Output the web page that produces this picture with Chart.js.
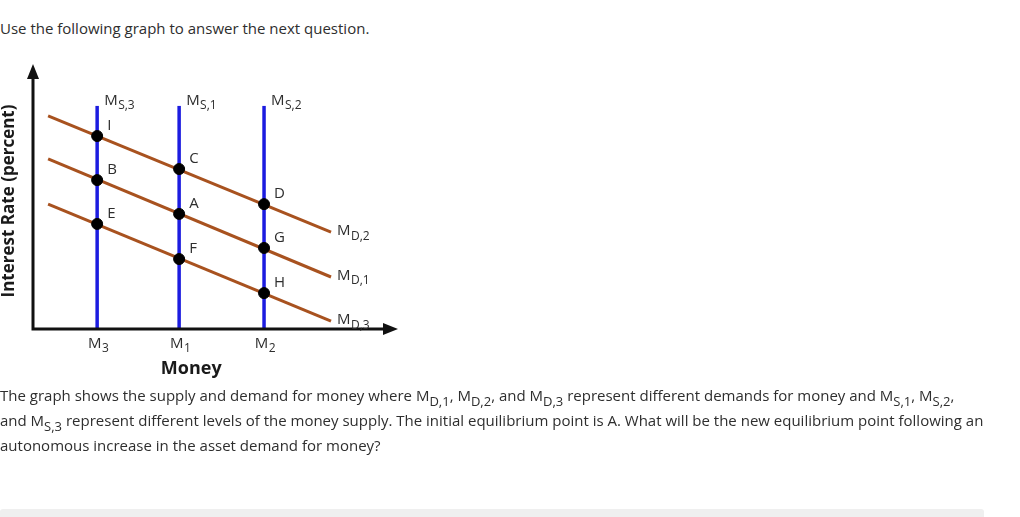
<!DOCTYPE html>
<html>
<head>
<meta charset="utf-8">
<script src="https://cdn.jsdelivr.net/npm/chart.js@4.4.1/dist/chart.umd.min.js"></script>
<style>
  html, body { margin: 0; padding: 0; background: #fff; }
  body { width: 1020px; height: 517px; position: relative; overflow: hidden;
         font-family: "Open Sans", sans-serif; color: #2e2e2e; font-size: 15px; }
  .txt { position: absolute; left: 0; white-space: nowrap; }
  sub { font-size: 13px; vertical-align: -5px; line-height: 0; }
  #top { top: 18px; }
  #body { top: 383px; line-height: 25px; }
  #wrap { position: absolute; left: 0; top: 55px; width: 420px; height: 330px; }
  #bar { position: absolute; left: 0; top: 509px; width: 984px; height: 12px; background: #efefef; border-radius: 3px; }
</style>
</head>
<body>
<div class="txt" id="top">Use the following graph to answer the next question.</div>
<div id="wrap"><canvas id="moneyChart"></canvas></div>
<div class="txt" id="body">The graph shows the supply and demand for money where M<sub>D,1</sub>, M<sub>D,2</sub>, and M<sub>D,3</sub> represent different demands for money and M<sub>S,1</sub>, M<sub>S,2</sub>,<br>and M<sub>S,3</sub> represent different levels of the money supply. The initial equilibrium point is A. What will be the new equilibrium point following an<br>autonomous increase in the asset demand for money?</div>
<div id="bar"></div>
<script>
// money supply (vertical lines)
const supplyNames = ['S,3', 'S,1', 'S,2'];
const supplyX = [1.78, 4.02, 6.34];
const supplyTop = 8.45;

// money demand (downward sloping lines)
const demandNames = ['D,2', 'D,1', 'D,3'];
const demandX = [0.44, 8.17];
const demandStartY = [8.07, 6.44, 4.73];
const demandEndY = [3.67, 1.97, 0.30];

// equilibrium points
const pointNames = ['I', 'C', 'D', 'B', 'A', 'G', 'E', 'F', 'H'];
const pointX = [1.78, 4.02, 6.34, 1.78, 4.02, 6.34, 1.78, 4.02, 6.34];
const pointY = [7.31, 6.06, 4.73, 5.64, 4.36, 3.07, 3.98, 2.65, 1.36];

// x tick labels
const tickX = [1.78, 4.02, 6.34];
const tickSubs = ['3', '1', '2'];

const BLUE = '#1c1ce0';
const BROWN = '#a8521f';
const FONT = '"Open Sans", sans-serif';

// draw "M" with a subscript
function drawSubLabel(ctx, x, y, sub, align) {
    ctx.font = '15px ' + FONT;
    const mw = ctx.measureText('M').width;
    ctx.font = '12px ' + FONT;
    const sw = ctx.measureText(sub).width;
    let left = x;
    if (align === 'center') left = x - (mw + sw) / 2;
    ctx.textAlign = 'left';
    ctx.textBaseline = 'middle';
    ctx.fillStyle = '#2e2e2e';
    ctx.font = '15px ' + FONT;
    ctx.fillText('M', left, y);
    ctx.font = '12px ' + FONT;
    ctx.fillText(sub, left + mw + 0.5, y + 5);
}

const annotations = {
    id: 'annotations',
    afterDatasetsDraw(chart) {
        const ctx = chart.ctx;
        const xs = chart.scales.x, ys = chart.scales.y;
        const area = chart.chartArea;
        ctx.save();

        // axes with arrow heads
        ctx.strokeStyle = '#111';
        ctx.fillStyle = '#111';
        ctx.lineWidth = 3;
        ctx.beginPath();
        ctx.moveTo(area.left + 1, area.top + 10);
        ctx.lineTo(area.left + 1, area.bottom);
        ctx.lineTo(area.right - 10, area.bottom);
        ctx.stroke();
        ctx.beginPath();
        ctx.moveTo(area.left + 1, area.top - 1);
        ctx.lineTo(area.left - 5, area.top + 14);
        ctx.lineTo(area.left + 7, area.top + 14);
        ctx.closePath();
        ctx.fill();
        ctx.beginPath();
        ctx.moveTo(area.right, area.bottom);
        ctx.lineTo(area.right - 15, area.bottom - 6);
        ctx.lineTo(area.right - 15, area.bottom + 6);
        ctx.closePath();
        ctx.fill();

        // supply labels
        supplyNames.forEach((s, i) => {
            drawSubLabel(ctx, xs.getPixelForValue(supplyX[i]) + 7, ys.getPixelForValue(supplyTop) - 5, s, 'left');
        });
        // demand labels
        demandNames.forEach((s, i) => {
            drawSubLabel(ctx, xs.getPixelForValue(demandX[1]) + 6, ys.getPixelForValue(demandEndY[i]) - 1, s, 'left');
        });
        // point letters
        ctx.font = '15px ' + FONT;
        ctx.textAlign = 'left';
        ctx.textBaseline = 'middle';
        ctx.fillStyle = '#2e2e2e';
        pointNames.forEach((p, i) => {
            ctx.fillText(p, xs.getPixelForValue(pointX[i]) + 10, ys.getPixelForValue(pointY[i]) - 10);
        });
        // x ticks
        tickX.forEach((v, i) => {
            drawSubLabel(ctx, xs.getPixelForValue(v) + 1, area.bottom + 15, tickSubs[i], 'center');
        });
        // axis titles
        ctx.fillStyle = '#1a1a1a';
        ctx.font = 'bold 18px ' + FONT;
        ctx.textAlign = 'center';
        ctx.textBaseline = 'middle';
        ctx.fillText('Money', xs.getPixelForValue(4.35), area.bottom + 40);
        ctx.translate(9, ys.getPixelForValue(4.85));
        ctx.rotate(-Math.PI / 2);
        ctx.font = 'bold 17px ' + FONT;
        ctx.fillText('Interest Rate (percent)', 0, 0);
        ctx.restore();
    }
};

const datasets = [];
supplyX.forEach(x => {
    datasets.push({
        type: 'line',
        data: [{ x: x, y: 0 }, { x: x, y: supplyTop }],
        borderColor: BLUE, borderWidth: 3.5, pointRadius: 0, order: 3
    });
});
demandNames.forEach((n, i) => {
    datasets.push({
        type: 'line',
        data: [{ x: demandX[0], y: demandStartY[i] }, { x: demandX[1], y: demandEndY[i] }],
        borderColor: BROWN, borderWidth: 3, pointRadius: 0, order: 2
    });
});
datasets.push({
    type: 'scatter',
    data: pointX.map((x, i) => ({ x: x, y: pointY[i] })),
    backgroundColor: '#000', borderColor: '#000', pointRadius: 5.5, order: 1
});

new Chart(document.getElementById('moneyChart').getContext('2d'), {
    type: 'scatter',
    data: { datasets: datasets },
    options: {
        responsive: true,
        maintainAspectRatio: false,
        animation: false,
        devicePixelRatio: 1,
        layout: { padding: { left: 32, right: 22, top: 10, bottom: 56 } },
        plugins: { legend: { display: false }, tooltip: { enabled: false } },
        scales: {
            x: { type: 'linear', min: 0, max: 10, display: false },
            y: { type: 'linear', min: 0, max: 10, display: false }
        }
    },
    plugins: [annotations]
});
</script>
</body>
</html>
